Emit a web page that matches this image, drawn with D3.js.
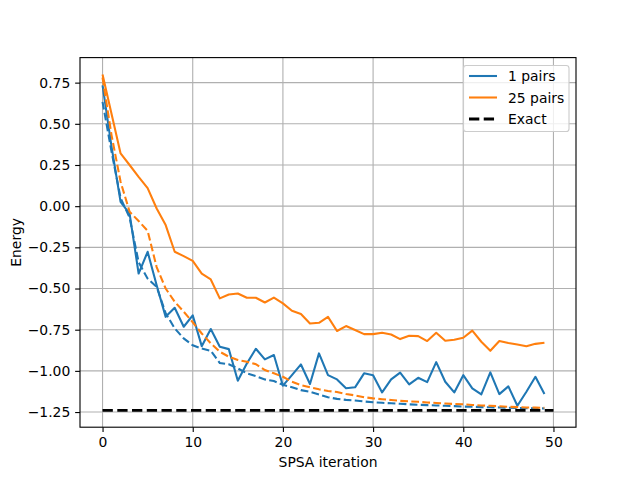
<!DOCTYPE html>
<html><head><meta charset="utf-8">
<script src="https://cdn.jsdelivr.net/npm/d3@7"></script>
<style>
body{margin:0;background:#fff;}
svg{display:block;font-family:"DejaVu Sans",sans-serif;}
</style></head>
<body><svg id="c" width="640" height="480"></svg>
<script>
const iterations = d3.range(0, 50);
const onePairs = [0.734,0.36,0.026,-0.045,-0.409,-0.277,-0.48,-0.672,-0.617,-0.732,
  -0.663,-0.85,-0.746,-0.854,-0.868,-1.06,-0.955,-0.866,-0.93,-0.904,
  -1.09,-1.026,-0.961,-1.08,-0.894,-1.026,-1.052,-1.106,-1.1,-1.015,
  -1.026,-1.131,-1.052,-1.011,-1.082,-1.042,-1.068,-0.947,-1.066,-1.131,
  -1.026,-1.106,-1.143,-1.009,-1.141,-1.094,-1.212,-1.127,-1.036,-1.141];
const onePairsDashed = [0.633,0.33,0.05,-0.07,-0.34,-0.44,-0.49,-0.65,-0.742,-0.803,
  -0.845,-0.864,-0.878,-0.952,-0.96,-0.985,-1.015,-1.032,-1.052,-1.062,
  -1.084,-1.1,-1.117,-1.127,-1.143,-1.16,-1.17,-1.176,-1.18,-1.186,
  -1.19,-1.194,-1.197,-1.2,-1.203,-1.206,-1.208,-1.21,-1.212,-1.214,
  -1.217,-1.218,-1.22,-1.221,-1.222,-1.224,-1.225,-1.226,-1.227,-1.228];
const twentyFivePairs = [0.80,0.56,0.32,0.25,0.178,0.11,-0.014,-0.115,-0.277,-0.303,
  -0.332,-0.41,-0.445,-0.56,-0.536,-0.53,-0.556,-0.556,-0.585,-0.555,
  -0.59,-0.635,-0.655,-0.712,-0.708,-0.672,-0.758,-0.728,-0.752,-0.777,
  -0.777,-0.769,-0.779,-0.807,-0.787,-0.789,-0.819,-0.769,-0.817,-0.811,
  -0.799,-0.756,-0.823,-0.878,-0.819,-0.831,-0.84,-0.85,-0.836,-0.829];
const twentyFivePairsDashed = [0.78,0.43,0.148,-0.034,-0.09,-0.15,-0.37,-0.5,-0.58,-0.641,
  -0.705,-0.773,-0.833,-0.884,-0.914,-0.934,-0.945,-0.959,-0.995,-1.015,
  -1.036,-1.066,-1.086,-1.1,-1.112,-1.122,-1.128,-1.141,-1.149,-1.16,
  -1.167,-1.172,-1.177,-1.182,-1.185,-1.188,-1.192,-1.195,-1.198,-1.201,
  -1.203,-1.207,-1.21,-1.212,-1.215,-1.218,-1.22,-1.222,-1.223,-1.224];
const exactX = [0, 50];
const exactEnergy = -1.24;
const xTicks = [0,10,20,30,40,50];
const yTicks = [-1.25,-1.0,-0.75,-0.5,-0.25,0,0.25,0.5,0.75];
const legendLabels = ["1 pairs","25 pairs","Exact"];

const svg = d3.select("#c");
const L=80, R=576, T=57.6, B=427.2;
const xmin=0, xmax=50;
const allY = onePairs.concat(onePairsDashed, twentyFivePairs, twentyFivePairsDashed, [exactEnergy]);
const ymin=d3.min(allY), ymax=d3.max(allY);
const xm=(xmax-xmin)*0.05, ym=(ymax-ymin)*0.05;
const x=d3.scaleLinear().domain([xmin-xm,xmax+xm]).range([L,R]);
const y=d3.scaleLinear().domain([ymin-ym,ymax+ym]).range([B,T]);

const fs=13.9;
const grid=svg.append("g");
xTicks.forEach(t=>grid.append("line").attr("x1",x(t)).attr("x2",x(t)).attr("y1",T).attr("y2",B)
  .attr("stroke","#b0b0b0").attr("stroke-width",1.11));
yTicks.forEach(t=>grid.append("line").attr("y1",y(t)).attr("y2",y(t)).attr("x1",L).attr("x2",R)
  .attr("stroke","#b0b0b0").attr("stroke-width",1.11));

const fmt=v=>d3.format(".2f")(v).replace("-","\u2212");
const xAxis=svg.append("g").attr("transform",`translate(0,${B})`)
  .call(d3.axisBottom(x).tickValues(xTicks).tickSize(4.86).tickPadding(4.9).tickFormat(d3.format("d")));
const yAxis=svg.append("g").attr("transform",`translate(${L},0)`)
  .call(d3.axisLeft(y).tickValues(yTicks).tickSize(4.86).tickPadding(4.9).tickFormat(fmt));
[xAxis,yAxis].forEach(a=>{
  a.select(".domain").remove();
  a.selectAll(".tick line").attr("stroke","#000").attr("stroke-width",1.11);
  a.selectAll(".tick text").attr("font-size",fs).attr("font-family","DejaVu Sans").attr("fill","#000");
});

const line=d3.line().x((d,i)=>x(iterations[i])).y(d=>y(d));
const clip=svg.append("clipPath").attr("id","cp").append("rect").attr("x",L).attr("y",T).attr("width",R-L).attr("height",B-T);
const plot=svg.append("g").attr("clip-path","url(#cp)");
const lw=2.08;
plot.append("path").datum(onePairs).attr("d",line).attr("fill","none").attr("stroke","#1f77b4").attr("stroke-width",lw).attr("stroke-linejoin","round");
plot.append("path").datum(onePairsDashed).attr("d",line).attr("fill","none").attr("stroke","#1f77b4").attr("stroke-width",lw).attr("stroke-dasharray","7.7,3.33");
plot.append("path").datum(twentyFivePairs).attr("d",line).attr("fill","none").attr("stroke","#ff7f0e").attr("stroke-width",lw).attr("stroke-linejoin","round");
plot.append("path").datum(twentyFivePairsDashed).attr("d",line).attr("fill","none").attr("stroke","#ff7f0e").attr("stroke-width",lw).attr("stroke-dasharray","7.7,3.33");
plot.append("line").attr("x1",x(exactX[0])).attr("x2",x(exactX[1])).attr("y1",y(exactEnergy)).attr("y2",y(exactEnergy))
  .attr("stroke","#000").attr("stroke-width",2.78).attr("stroke-dasharray","10.3,4.44");

svg.append("rect").attr("x",L).attr("y",T).attr("width",R-L).attr("height",B-T)
  .attr("fill","none").attr("stroke","#000").attr("stroke-width",1.11);

svg.append("text").attr("x",(L+R)/2).attr("y",467).attr("text-anchor","middle").attr("font-size",fs).text("SPSA iteration");
svg.append("text").attr("transform",`translate(20.5,${(T+B)/2}) rotate(-90)`).attr("text-anchor","middle").attr("font-size",fs).text("Energy");

// legend
const lg=svg.append("g");
lg.append("rect").attr("x",463.5).attr("y",65.5).attr("width",105.5).attr("height",66).attr("rx",2.8)
  .attr("fill","#fff").attr("fill-opacity",0.8).attr("stroke","#cccccc").attr("stroke-width",1.11);
const styles=[{c:"#1f77b4",w:lw,d:null},{c:"#ff7f0e",w:lw,d:null},{c:"#000",w:2.78,d:"10.3,4.44"}];
legendLabels.forEach((lab,i)=>{
  const yy=76+i*21.5;
  const ln=lg.append("line").attr("x1",469).attr("x2",497).attr("y1",yy).attr("y2",yy)
    .attr("stroke",styles[i].c).attr("stroke-width",styles[i].w);
  if(styles[i].d) ln.attr("stroke-dasharray",styles[i].d);
  lg.append("text").attr("x",508).attr("y",yy+5).attr("font-size",fs).text(lab);
});
</script></body></html>
